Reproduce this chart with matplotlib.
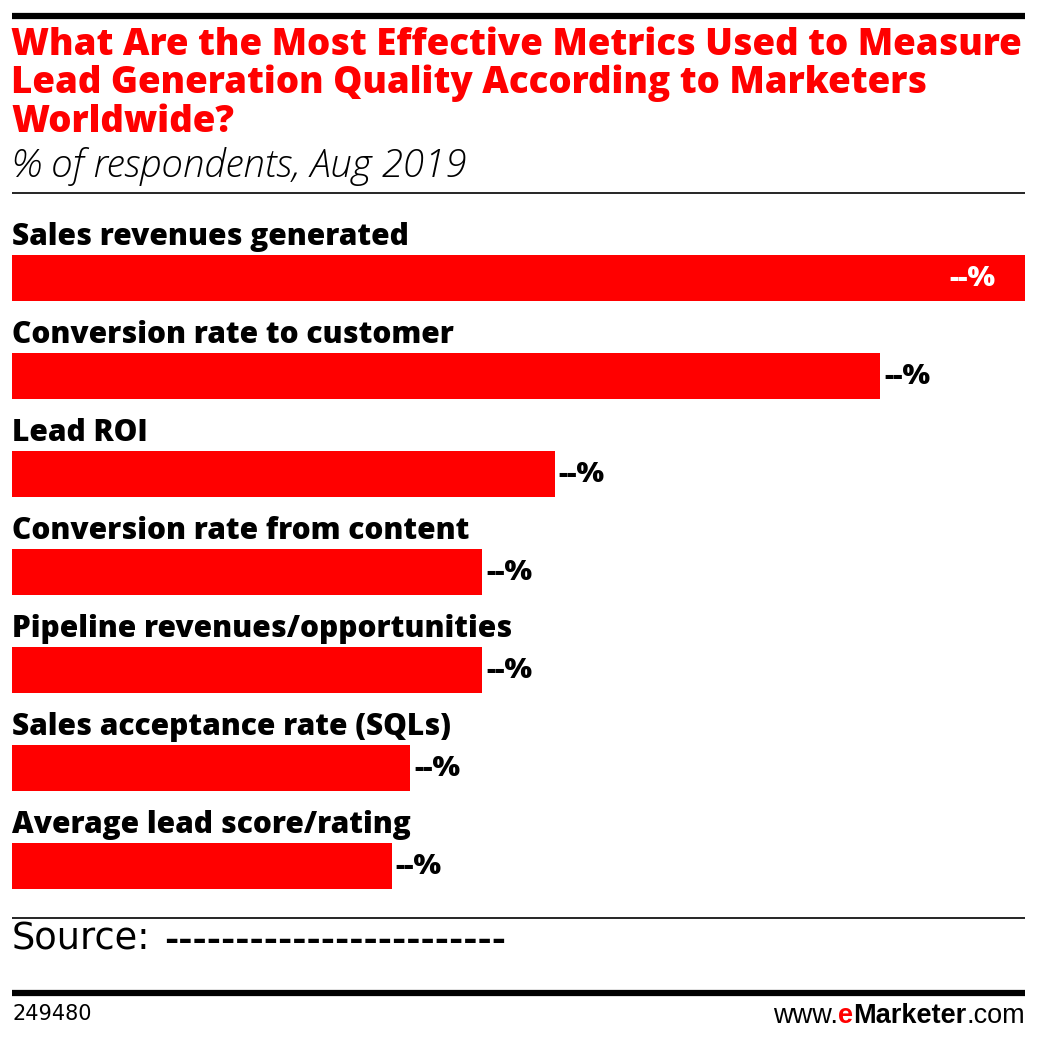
import matplotlib
matplotlib.use("Agg")
import matplotlib.pyplot as plt
from matplotlib.lines import Line2D

categories = [
    "Sales revenues generated",
    "Conversion rate to customer",
    "Lead ROI",
    "Conversion rate from content",
    "Pipeline revenues/opportunities",
    "Sales acceptance rate (SQLs)",
    "Average lead score/rating",
]
values = [56, 48, 30, 26, 26, 22, 21]
value_labels = ["--%"] * len(categories)

title_lines = [
    "What Are the Most Effective Metrics Used to Measure",
    "Lead Generation Quality According to Marketers",
    "Worldwide?",
]
subtitle = "% of respondents, Aug 2019"
source_label = "Source:"
source_value = "------------------------"
chart_id = "249480"

RED = "#ff0000"
W, H = 1038, 1042
fig = plt.figure(figsize=(W / 100, H / 100), dpi=100)
FONT = "Open Sans"
DV = "DejaVu Sans"
FOOT = "Liberation Sans"

def fx(px):
    return px / W

def fy(py):
    return 1 - py / H

def rule(y, lw):
    fig.add_artist(Line2D([fx(12), fx(1025)], [fy(y), fy(y)], color="black", lw=lw,
                          transform=fig.transFigure, solid_capstyle="butt"))

rule(16, 4.5)
rule(193, 1.2)
rule(918, 1.2)
rule(993, 4.5)

for k, line in enumerate(title_lines):
    fig.text(fx(11), fy(55 + 38.5 * k), line, color=RED, fontsize=26.4, fontweight=800,
             family=FONT, va="baseline", ha="left")
fig.text(fx(12), fy(177), subtitle, color="black", fontsize=27.8, fontstyle="italic",
         family=FONT, va="baseline", ha="left", fontweight="light")

# bars axes
row = 98.0
c0 = 278.0
top_px = c0 - 0.735 * row
bot_px = c0 + 6.3 * row
ax = fig.add_axes([fx(12), fy(bot_px), fx(1025) - fx(12), (bot_px - top_px) / H])
n = len(categories)
ypos = list(range(n))
ax.barh(ypos, values, height=46 / row, color=RED, edgecolor="none")
ax.set_xlim(0, max(values))
ax.set_ylim(6.3, -0.735)
ax.axis("off")

for i, (cat, v, lab) in enumerate(zip(categories, values, value_labels)):
    ax.text(0, i - 33 / row, cat, fontsize=21.5, fontweight=800, family=FONT,
            va="baseline", ha="left", color="black")
    if v == max(values):
        ax.annotate(lab, xy=(v, i), xytext=(-30, 0), textcoords="offset pixels",
                    ha="right", va="center", color="white", fontsize=21,
                    fontweight=800, family=FONT)
    else:
        ax.annotate(lab, xy=(v, i), xytext=(4, 0), textcoords="offset pixels",
                    ha="left", va="center", color="black", fontsize=21,
                    fontweight=800, family=FONT)

fig.text(fx(12), fy(950), source_label, fontsize=26.5,
         family=DV, va="baseline", ha="left")
fig.text(fx(164), fy(950), source_value, fontsize=24.6, family=DV, fontweight="bold",
         va="baseline", ha="left")
fig.text(fx(12), fy(1020), chart_id, fontsize=15, family=DV, va="baseline",
         ha="left")

# footer brand, built right-to-left
FS = 19.5
t_com = fig.text(fx(1025), fy(1023), ".com", fontsize=FS, family=FOOT,
                 va="baseline", ha="right")
ann_mk = plt.annotate("Marketer", xy=(0, 0), xycoords=t_com, ha="right", va="bottom",
                      fontsize=FS, fontweight="bold", family=FOOT, annotation_clip=False)
ann_e = plt.annotate("e", xy=(0, 0), xycoords=ann_mk, ha="right", va="bottom",
                     fontsize=FS, fontweight="bold", family=FOOT, color=RED,
                     annotation_clip=False)
ann_w = plt.annotate("www.", xy=(0, 0), xycoords=ann_e, ha="right", va="bottom",
                     fontsize=FS, family=FOOT, annotation_clip=False)

fig.savefig("out.png", dpi=100)
